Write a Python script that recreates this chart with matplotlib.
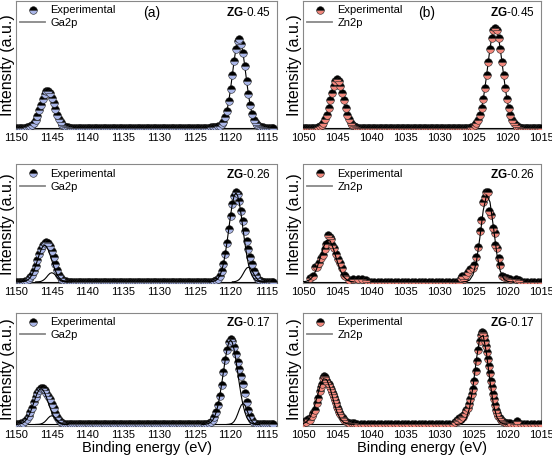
import numpy as np
import matplotlib
matplotlib.use('Agg')
import matplotlib.pyplot as plt
from matplotlib.lines import Line2D

plt.rcParams['font.family'] = ['Liberation Sans', 'DejaVu Sans']
plt.rcParams['mathtext.fontset'] = 'custom'
plt.rcParams['mathtext.rm'] = 'Liberation Sans'
plt.rcParams['mathtext.bf'] = 'Liberation Sans:bold'

# Dense spectra: (first binding energy, intensities read every 0.25 eV going down)
# Flat stretches read as zero: (from, to) energy ranges.

# ---- Ga 2p, ZG-0.45
ga045_segs = [
    (1149.0, [0.002, 0.004, 0.007, 0.012, 0.02, 0.034, 0.056, 0.088, 0.137, 0.197, 0.264, 0.33,
              0.383, 0.415, 0.417, 0.391, 0.342, 0.278, 0.21, 0.148, 0.097, 0.062, 0.037, 0.022,
              0.013, 0.008, 0.004, 0.002]),
    (1123.0, [0.003, 0.005, 0.007, 0.01, 0.013, 0.018, 0.027, 0.043, 0.072, 0.12, 0.196, 0.30,
              0.438, 0.596, 0.755, 0.89, 0.977, 0.999, 0.95, 0.841, 0.693, 0.532, 0.38, 0.253,
              0.16, 0.095, 0.055, 0.032, 0.02, 0.012, 0.007, 0.004, 0.002, 0.001]),
]
ga045_zero = [(1150, 1149.25), (1142.0, 1123.25), (1114.5, 1114.0)]
ga045_fit = ga045_segs  # one component per peak, lies on the data

# ---- Ga 2p, ZG-0.26
ga026_segs = [
    (1149.5, [0.001, 0.002, 0.004, 0.008, 0.015, 0.028, 0.049, 0.080, 0.123, 0.176, 0.238, 0.300,
              0.357, 0.402, 0.429, 0.437, 0.425, 0.391, 0.337, 0.269, 0.197, 0.130, 0.078, 0.043,
              0.021, 0.010, 0.005, 0.002, 0.001]),
    (1122.75, [0.002, 0.004, 0.009, 0.018, 0.037, 0.068, 0.119, 0.195, 0.299, 0.428, 0.574, 0.723,
               0.852, 0.941, 0.976, 0.953, 0.88, 0.777, 0.661, 0.55, 0.449, 0.355, 0.269, 0.19,
               0.124, 0.072, 0.038, 0.018, 0.008, 0.003, 0.001]),
]
ga026_zero = [(1150, 1149.75), (1142.25, 1123.0), (1115.0, 1114.0)]
ga026_fit = [
    (1149.5, [0.001, 0.002, 0.004, 0.008, 0.015, 0.028, 0.049, 0.080, 0.123, 0.176, 0.237, 0.298,
              0.351, 0.387, 0.40, 0.387, 0.351, 0.298, 0.237, 0.176, 0.123, 0.080, 0.049, 0.028,
              0.015, 0.008, 0.004, 0.002, 0.001, 0]),
    (1147.25, [0, 0.001, 0.002, 0.006, 0.015, 0.029, 0.05, 0.074, 0.093, 0.10, 0.093, 0.074, 0.05,
               0.029, 0.015, 0.006, 0.002, 0.001, 0]),
    (1123.0, [0.001, 0.002, 0.004, 0.009, 0.018, 0.037, 0.068, 0.119, 0.195, 0.299, 0.428, 0.574,
              0.723, 0.851, 0.939, 0.97, 0.939, 0.851, 0.723, 0.574, 0.428, 0.299, 0.195, 0.119,
              0.068, 0.037, 0.018, 0.009, 0.004, 0.002, 0.001, 0]),
    (1119.75, [0.001, 0.002, 0.006, 0.014, 0.029, 0.054, 0.087, 0.122, 0.15, 0.16, 0.15, 0.122,
               0.087, 0.054, 0.029, 0.014, 0.006, 0.002, 0.001, 0]),
]

# ---- Ga 2p, ZG-0.17
ga017_segs = [
    (1150.0, [0.001, 0.003, 0.005, 0.011, 0.02, 0.036, 0.06, 0.094, 0.139, 0.194, 0.253, 0.313,
              0.365, 0.40, 0.416, 0.413, 0.393, 0.363, 0.327, 0.287, 0.239, 0.187, 0.134, 0.086,
              0.049, 0.026, 0.011, 0.005, 0.002]),
    (1123.75, [0.001, 0.003, 0.006, 0.013, 0.025, 0.048, 0.085, 0.142, 0.222, 0.329, 0.458, 0.599,
               0.74, 0.86, 0.943, 0.976, 0.956, 0.895, 0.81, 0.719, 0.634, 0.551, 0.462, 0.364,
               0.261, 0.168, 0.095, 0.048, 0.021, 0.009, 0.003]),
]
ga017_zero = [(1142.75, 1124.0), (1116.0, 1114.0)]
ga017_fit = [
    (1150.0, [0.001, 0.0025, 0.005, 0.011, 0.02, 0.036, 0.06, 0.094, 0.139, 0.194, 0.253, 0.313,
              0.364, 0.398, 0.41, 0.398, 0.364, 0.313, 0.253, 0.194, 0.139, 0.094, 0.06, 0.036,
              0.02, 0.011, 0.005, 0.0025, 0.001, 0]),
    (1147.25, [0, 0.001, 0.002, 0.006, 0.015, 0.029, 0.05, 0.074, 0.093, 0.10, 0.093, 0.074, 0.05,
               0.029, 0.015, 0.006, 0.002, 0.001, 0]),
    (1124.0, [0, 0.001, 0.003, 0.006, 0.013, 0.025, 0.048, 0.085, 0.142, 0.222, 0.329, 0.458,
              0.599, 0.74, 0.86, 0.941, 0.97, 0.941, 0.86, 0.74, 0.599, 0.458, 0.329, 0.222,
              0.142, 0.085, 0.048, 0.025, 0.013, 0.006, 0.003, 0.001, 0]),
    (1120.5, [0, 0.002, 0.006, 0.015, 0.035, 0.07, 0.12, 0.176, 0.222, 0.24, 0.222, 0.176, 0.12,
              0.07, 0.035, 0.015, 0.006, 0.002, 0]),
]

# ---- Zn 2p, ZG-0.45
zn045_segs = [
    (1048.25, [0.001, 0.003, 0.006, 0.014, 0.027, 0.049, 0.084, 0.133, 0.198, 0.274, 0.352, 0.42,
               0.468, 0.485, 0.468, 0.42, 0.352, 0.274, 0.198, 0.133, 0.084, 0.049, 0.027, 0.014,
               0.006, 0.003, 0.001]),
    (1025.75, [0.001, 0.003, 0.007, 0.013, 0.025, 0.045, 0.077, 0.125, 0.194, 0.285, 0.398, 0.527,
               0.664, 0.794, 0.903, 0.975, 1.0, 0.975, 0.903, 0.794, 0.664, 0.527, 0.398, 0.285,
               0.194, 0.125, 0.077, 0.045, 0.025, 0.013, 0.007, 0.003, 0.001]),
]
zn045_zero = [(1050, 1048.5), (1041.5, 1026.0), (1017.5, 1015.0)]
zn045_fit = zn045_segs

# ---- Zn 2p, ZG-0.26 (sparse, noisy points)
zn026_e = [1048.9, 1048.6, 1048.3, 1048.0, 1047.7, 1047.3, 1047.1, 1046.8, 1046.6, 1046.3,
           1046.1, 1045.9, 1045.8, 1045.5, 1045.2, 1044.8, 1044.5, 1044.3, 1044.0, 1043.8,
           1043.3, 1042.6, 1041.9, 1041.3, 1040.7,
           1026.8, 1026.6, 1026.3, 1026.1, 1025.7, 1025.4, 1025.0, 1024.8, 1024.5, 1024.3,
           1024.0, 1023.8, 1023.6, 1023.3, 1023.1, 1022.8, 1022.6, 1022.3, 1022.1, 1021.8,
           1021.7, 1021.4, 1021.2, 1021.0, 1020.7, 1020.4, 1020.0, 1019.6, 1018.7, 1018.2]
zn026_i = [0.04, 0.07, 0.17, 0.17, 0.21, 0.26, 0.30, 0.36, 0.42, 0.52,
           0.50, 0.47, 0.41, 0.375, 0.31, 0.25, 0.21, 0.15, 0.08, 0.06,
           0.02, 0.03, 0.03, 0.03, 0.02,
           0.04, 0.07, 0.03, 0.08, 0.11, 0.14, 0.15, 0.19, 0.28, 0.39,
           0.56, 0.69, 0.89, 0.94, 0.99, 1.0, 0.78, 0.74, 0.60, 0.54,
           0.41, 0.375, 0.26, 0.19, 0.07, 0.05, 0.04, 0.03, 0.03, 0.02]
zn026_zero = [(1040.5, 1027.0), (1018.0, 1015.0)]
zn026_fit = [
    (1050.0, [0.002, 0.007, 0.024, 0.064, 0.144, 0.26, 0.384, 0.462, 0.453, 0.361, 0.235, 0.125,
              0.054, 0.019, 0.005, 0]),
    (1026.5, [0.001, 0.004, 0.02, 0.078, 0.224, 0.485, 0.79, 0.964, 0.885, 0.61, 0.315, 0.122,
              0.036, 0.008, 0.001, 0]),
]

# ---- Zn 2p, ZG-0.17
zn017_e = [1050.0, 1049.75, 1049.5, 1049.25, 1049.0, 1048.75, 1048.5, 1048.25, 1048.0, 1047.75,
           1047.5, 1047.4, 1047.2, 1047.0, 1046.85, 1046.7, 1046.55, 1046.4, 1046.25, 1046.1,
           1045.95, 1045.8, 1045.65, 1045.5, 1045.35, 1045.2, 1045.0, 1044.85, 1044.7, 1044.5,
           1044.3, 1044.1, 1043.9, 1043.6, 1043.3, 1042.8, 1042.5,
           1027.6, 1027.4, 1027.2, 1027.0, 1026.8, 1026.6, 1026.4, 1026.2, 1026.0, 1025.8,
           1025.6, 1025.4, 1025.2, 1025.0, 1024.8, 1024.6, 1024.4, 1024.2, 1024.0, 1023.85,
           1023.7, 1023.55, 1023.4, 1023.25, 1023.1, 1022.95, 1022.8, 1022.65, 1022.5, 1022.35,
           1022.2, 1022.05, 1021.9, 1021.75, 1021.6, 1021.45, 1021.3, 1021.1, 1020.9, 1020.7,
           1020.4, 1020.1, 1019.8, 1019.5, 1018.5]
zn017_i = [0.02, 0.035, 0.03, 0.06, 0.05, 0.09, 0.12, 0.16, 0.23, 0.28,
           0.36, 0.40, 0.44, 0.50, 0.525, 0.51, 0.48, 0.46, 0.43, 0.40,
           0.38, 0.35, 0.33, 0.29, 0.26, 0.23, 0.19, 0.17, 0.13, 0.11,
           0.08, 0.07, 0.05, 0.03, 0.02, 0.015, 0.01,
           0.03, 0.05, 0.04, 0.07, 0.06, 0.09, 0.08, 0.12, 0.15, 0.18,
           0.22, 0.27, 0.33, 0.38, 0.47, 0.58, 0.68, 0.80, 0.90, 0.96,
           1.0, 0.98, 0.95, 0.90, 0.84, 0.78, 0.70, 0.63, 0.55, 0.47,
           0.40, 0.33, 0.27, 0.21, 0.16, 0.12, 0.09, 0.07, 0.05, 0.04,
           0.03, 0.02, 0.015, 0.01, 0.035]
zn017_zero = [(1042.0, 1028.0), (1019.0, 1015.0)]
zn017_fit = [
    (1050.0, [0.0075, 0.025, 0.069, 0.153, 0.277, 0.409, 0.492, 0.482, 0.385, 0.25, 0.133, 0.057,
              0.02, 0.006, 0.001, 0]),
    (1027.5, [0, 0.003, 0.016, 0.061, 0.179, 0.404, 0.701, 0.935, 0.959, 0.759, 0.461, 0.216,
              0.077, 0.022, 0.005, 0]),
]

ga_color = '#aab6e8'
zn_color = '#f2877c'


def seg_energy(start, vals, step):
    return start - step * np.arange(len(vals))


def zero_energy(start, stop, step):
    return np.arange(start, stop - 0.01, -step)


def dense(segs, zeros):
    e = [seg_energy(s, v, 0.25) for s, v in segs] + [zero_energy(a, b, 0.25) for a, b in zeros]
    i = [np.array(v, float) for s, v in segs] + [np.zeros(len(zero_energy(a, b, 0.25))) for a, b in zeros]
    e, i = np.concatenate(e), np.concatenate(i)
    order = np.argsort(-e)
    return e[order], i[order]


def sparse(ee, ii, zeros):
    e = np.concatenate([ee] + [zero_energy(a, b, 0.5) for a, b in zeros])
    i = np.concatenate([ii] + [np.zeros(len(zero_energy(a, b, 0.5))) for a, b in zeros])
    order = np.argsort(-e)
    return e[order], i[order]


def fit_lines(fits, step):
    return [(seg_energy(s, v, step), v) for s, v in fits]


W, H = 552, 463
fig = plt.figure(figsize=(W / 100, H / 100), dpi=100)


def make_ax(x0, x1, y0, y1):
    return fig.add_axes([x0 / W, 1 - y1 / H, (x1 - x0) / W, (y1 - y0) / H])


ga_ticks = np.arange(1150, 1114, -5)
zn_ticks = np.arange(1050, 1014, -5)
panels = [
    # box, xlim, ticks, experimental, fits, color, fit label, ytop, sample, letter
    ((16, 277, 1, 129), (1150, 1113.5), ga_ticks, dense(ga045_segs, ga045_zero),
     fit_lines(ga045_fit, 0.25), ga_color, 'Ga2p', 1.43, '0.45', '(a)'),
    ((303, 541, 1, 129), (1050, 1015), zn_ticks, dense(zn045_segs, zn045_zero),
     fit_lines(zn045_fit, 0.25), zn_color, 'Zn2p', 1.27, '0.45', '(b)'),
    ((16, 277, 164.5, 283), (1150, 1113.5), ga_ticks, dense(ga026_segs, ga026_zero),
     fit_lines(ga026_fit, 0.25), ga_color, 'Ga2p', 1.28, '0.26', None),
    ((303, 541, 164.5, 283), (1050, 1015), zn_ticks, sparse(zn026_e, zn026_i, zn026_zero),
     fit_lines(zn026_fit, 0.5), zn_color, 'Zn2p', 1.30, '0.26', None),
    ((16, 277, 313, 425.5), (1150, 1113.5), ga_ticks, dense(ga017_segs, ga017_zero),
     fit_lines(ga017_fit, 0.25), ga_color, 'Ga2p', 1.28, '0.17', None),
    ((303, 541, 313, 425.5), (1050, 1015), zn_ticks, sparse(zn017_e, zn017_i, zn017_zero),
     fit_lines(zn017_fit, 0.5), zn_color, 'Zn2p', 1.20, '0.17', None),
]

for k, (box, xlim, ticks, (ee, ii), comps, col, flabel, ytop, sample, letter) in enumerate(panels):
    ax = make_ax(*box)
    mk = dict(marker='o', ls='none', ms=5.5, fillstyle='top', markerfacecolor='black',
              markerfacecoloralt=col, markeredgecolor='#222222', markeredgewidth=0.4)
    ax.plot(ee, ii, zorder=3, **mk)
    # single-component fits of the 0.45 sample hide under the data points
    line_z = 2 if k < 2 else 4
    for ce, ci in comps:
        ax.plot(ce, ci, color='black', lw=0.8, zorder=line_z)
    ax.axhline(0, color='black', lw=0.8, zorder=2)

    ax.set_xlim(*xlim)
    ax.set_ylim(-0.012, ytop)
    ax.set_xticks(ticks)
    ax.set_xticklabels([str(int(t)) for t in ticks])
    ax.set_yticks([])
    ax.tick_params(axis='x', length=0, pad=3, labelsize=8)
    for s in ax.spines.values():
        s.set_color('#888888')
        s.set_linewidth(0.8)
    ax.set_ylabel('Intensity (a.u.)', fontsize=11.5, labelpad=1)
    if k >= 4:
        ax.set_xlabel('Binding energy (eV)', fontsize=10.5, labelpad=1)

    handles = [
        Line2D([], [], marker='o', ls='none', ms=5.5, fillstyle='top', markerfacecolor='black',
               markerfacecoloralt=col, markeredgecolor='#222222', markeredgewidth=0.4),
        Line2D([], [], color='#888888', lw=1.3),
    ]
    ax.legend(handles, ['Experimental', flabel], loc='upper left', frameon=False,
              fontsize=8, handlelength=2.2, handletextpad=0.5, labelspacing=0.25,
              borderaxespad=0.2, borderpad=0.2)
    ax.text(0.975, 0.91 if k < 2 else 0.915, r'$\mathbf{ZG}$-' + sample, transform=ax.transAxes,
            ha='right', va='center', fontsize=8.5)
    if letter:
        ax.text(0.52, 0.91, letter, transform=ax.transAxes, ha='center', va='center', fontsize=10)

fig.savefig('out.png', dpi=100)
